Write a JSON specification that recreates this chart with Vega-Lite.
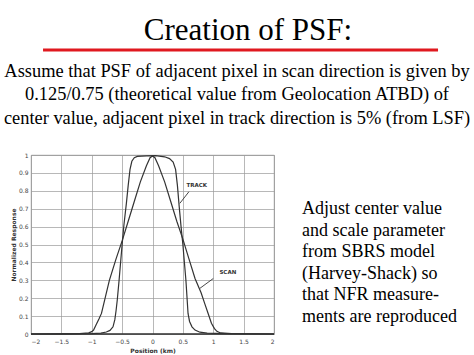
{
  "$schema": "https://vega.github.io/schema/vega-lite/v6.json",
  "width": 243,
  "height": 179,
  "autosize": "none",
  "padding": {"left": 31, "top": 155, "right": 200, "bottom": 21},
  "background": "white",
  "config": {
    "view": {"stroke": "#888", "strokeWidth": 0.8},
    "axis": {
      "labelFontSize": 6, "labelColor": "#444", "labelFont": "DejaVu Sans",
      "titleFontSize": 6, "titleColor": "#333", "titleFont": "DejaVu Sans", "titleFontWeight": "bold",
      "gridColor": "#999", "gridWidth": 0.7, "ticks": false, "domain": false, "labelOverlap": false
    }
  },
  "layer": [
    {
      "data": {"values": [
        {"series": "TRACK", "x": -2, "y": 0},
        {"series": "TRACK", "x": -1.5, "y": 0.001},
        {"series": "TRACK", "x": -1.0, "y": 0.002},
        {"series": "TRACK", "x": -0.85, "y": 0.005},
        {"series": "TRACK", "x": -0.76, "y": 0.011},
        {"series": "TRACK", "x": -0.7, "y": 0.02},
        {"series": "TRACK", "x": -0.65, "y": 0.04},
        {"series": "TRACK", "x": -0.62, "y": 0.08},
        {"series": "TRACK", "x": -0.6, "y": 0.13},
        {"series": "TRACK", "x": -0.58, "y": 0.19},
        {"series": "TRACK", "x": -0.55, "y": 0.3},
        {"series": "TRACK", "x": -0.5, "y": 0.5},
        {"series": "TRACK", "x": -0.47, "y": 0.61},
        {"series": "TRACK", "x": -0.43, "y": 0.73},
        {"series": "TRACK", "x": -0.4, "y": 0.83},
        {"series": "TRACK", "x": -0.37, "y": 0.92},
        {"series": "TRACK", "x": -0.34, "y": 0.965},
        {"series": "TRACK", "x": -0.3, "y": 0.985},
        {"series": "TRACK", "x": -0.25, "y": 0.992},
        {"series": "TRACK", "x": -0.1, "y": 0.995},
        {"series": "TRACK", "x": 0.05, "y": 0.996},
        {"series": "TRACK", "x": 0.2, "y": 0.99},
        {"series": "TRACK", "x": 0.28, "y": 0.98},
        {"series": "TRACK", "x": 0.34, "y": 0.96},
        {"series": "TRACK", "x": 0.38, "y": 0.92},
        {"series": "TRACK", "x": 0.41, "y": 0.83},
        {"series": "TRACK", "x": 0.44, "y": 0.71},
        {"series": "TRACK", "x": 0.47, "y": 0.6},
        {"series": "TRACK", "x": 0.5, "y": 0.5},
        {"series": "TRACK", "x": 0.55, "y": 0.3},
        {"series": "TRACK", "x": 0.585, "y": 0.115},
        {"series": "TRACK", "x": 0.61, "y": 0.07},
        {"series": "TRACK", "x": 0.65, "y": 0.04},
        {"series": "TRACK", "x": 0.7, "y": 0.022},
        {"series": "TRACK", "x": 0.78, "y": 0.01},
        {"series": "TRACK", "x": 0.9, "y": 0.005},
        {"series": "TRACK", "x": 1.2, "y": 0.002},
        {"series": "TRACK", "x": 2, "y": 0},
        {"series": "SCAN", "x": -2, "y": 0},
        {"series": "SCAN", "x": -1.5, "y": 0.001},
        {"series": "SCAN", "x": -1.2, "y": 0.002},
        {"series": "SCAN", "x": -1.05, "y": 0.006},
        {"series": "SCAN", "x": -1.0, "y": 0.013},
        {"series": "SCAN", "x": -0.97, "y": 0.022},
        {"series": "SCAN", "x": -0.93, "y": 0.05},
        {"series": "SCAN", "x": -0.88, "y": 0.085},
        {"series": "SCAN", "x": -0.84, "y": 0.115},
        {"series": "SCAN", "x": -0.78, "y": 0.2},
        {"series": "SCAN", "x": -0.71, "y": 0.3},
        {"series": "SCAN", "x": -0.6, "y": 0.42},
        {"series": "SCAN", "x": -0.5, "y": 0.52},
        {"series": "SCAN", "x": -0.4, "y": 0.63},
        {"series": "SCAN", "x": -0.3, "y": 0.74},
        {"series": "SCAN", "x": -0.2, "y": 0.85},
        {"series": "SCAN", "x": -0.1, "y": 0.94},
        {"series": "SCAN", "x": -0.04, "y": 0.985},
        {"series": "SCAN", "x": 0, "y": 0.995},
        {"series": "SCAN", "x": 0.04, "y": 0.985},
        {"series": "SCAN", "x": 0.1, "y": 0.94},
        {"series": "SCAN", "x": 0.2, "y": 0.85},
        {"series": "SCAN", "x": 0.3, "y": 0.74},
        {"series": "SCAN", "x": 0.4, "y": 0.63},
        {"series": "SCAN", "x": 0.5, "y": 0.53},
        {"series": "SCAN", "x": 0.6, "y": 0.42},
        {"series": "SCAN", "x": 0.7, "y": 0.31},
        {"series": "SCAN", "x": 0.8, "y": 0.23},
        {"series": "SCAN", "x": 0.86, "y": 0.17},
        {"series": "SCAN", "x": 0.92, "y": 0.11},
        {"series": "SCAN", "x": 0.97, "y": 0.06},
        {"series": "SCAN", "x": 1.02, "y": 0.03},
        {"series": "SCAN", "x": 1.06, "y": 0.015},
        {"series": "SCAN", "x": 1.12, "y": 0.006},
        {"series": "SCAN", "x": 1.3, "y": 0.002},
        {"series": "SCAN", "x": 2, "y": 0}
      ]},
      "mark": {"type": "line", "color": "#333", "strokeWidth": 1.2},
      "encoding": {
        "x": {"field": "x", "type": "quantitative",
              "scale": {"domain": [-2, 2], "nice": false},
              "axis": {"values": [-2, -1.5, -1, -0.5, 0, 0.5, 1, 1.5, 2], "format": "~g", "title": "Position (km)", "labelPadding": 4, "titlePadding": 3}},
        "y": {"field": "y", "type": "quantitative",
              "scale": {"domain": [0, 1], "nice": false},
              "axis": {"values": [0, 0.1, 0.2, 0.3, 0.4, 0.5, 0.6, 0.7, 0.8, 0.9, 1], "format": "~g", "title": "Normalized Response", "labelPadding": 3, "titlePadding": 2}},
        "detail": {"field": "series"},
        "order": {"field": "x", "type": "quantitative"}
      }
    },
    {
      "data": {"values": [{}]},
      "mark": {"type": "rule", "color": "#333", "strokeWidth": 1.5},
      "encoding": {
        "x": {"datum": -2, "type": "quantitative", "axis": {"values": [-2, -1.5, -1, -0.5, 0, 0.5, 1, 1.5, 2], "format": "~g", "title": "Position (km)", "labelPadding": 4, "titlePadding": 3}},
        "x2": {"datum": 2},
        "y": {"datum": 0, "type": "quantitative", "axis": {"values": [0, 0.1, 0.2, 0.3, 0.4, 0.5, 0.6, 0.7, 0.8, 0.9, 1], "format": "~g", "title": "Normalized Response", "labelPadding": 3, "titlePadding": 2}}
      }
    },
    {
      "data": {"values": [{}]},
      "mark": {"type": "rule", "color": "#333", "strokeWidth": 0.9},
      "encoding": {
        "x": {"datum": 0.6, "type": "quantitative", "axis": {"values": [-2, -1.5, -1, -0.5, 0, 0.5, 1, 1.5, 2], "format": "~g", "title": "Position (km)", "labelPadding": 4, "titlePadding": 3}},
        "y": {"datum": 0.795, "type": "quantitative", "axis": {"values": [0, 0.1, 0.2, 0.3, 0.4, 0.5, 0.6, 0.7, 0.8, 0.9, 1], "format": "~g", "title": "Normalized Response", "labelPadding": 3, "titlePadding": 2}},
        "x2": {"datum": 0.45}, "y2": {"datum": 0.73}
      }
    },
    {
      "data": {"values": [{}]},
      "mark": {"type": "rule", "color": "#333", "strokeWidth": 0.9},
      "encoding": {
        "x": {"datum": 1.0, "type": "quantitative", "axis": {"values": [-2, -1.5, -1, -0.5, 0, 0.5, 1, 1.5, 2], "format": "~g", "title": "Position (km)", "labelPadding": 4, "titlePadding": 3}},
        "y": {"datum": 0.31, "type": "quantitative", "axis": {"values": [0, 0.1, 0.2, 0.3, 0.4, 0.5, 0.6, 0.7, 0.8, 0.9, 1], "format": "~g", "title": "Normalized Response", "labelPadding": 3, "titlePadding": 2}},
        "x2": {"datum": 0.78}, "y2": {"datum": 0.255}
      }
    },
    {
      "data": {"values": [{}]},
      "mark": {"type": "text", "text": "TRACK", "font": "DejaVu Sans", "fontSize": 5.5, "fontWeight": "bold", "color": "#333", "align": "center", "baseline": "middle"},
      "encoding": {
        "x": {"datum": 0.73, "type": "quantitative", "axis": {"values": [-2, -1.5, -1, -0.5, 0, 0.5, 1, 1.5, 2], "format": "~g", "title": "Position (km)", "labelPadding": 4, "titlePadding": 3}},
        "y": {"datum": 0.83, "type": "quantitative", "axis": {"values": [0, 0.1, 0.2, 0.3, 0.4, 0.5, 0.6, 0.7, 0.8, 0.9, 1], "format": "~g", "title": "Normalized Response", "labelPadding": 3, "titlePadding": 2}}
      }
    },
    {
      "data": {"values": [{}]},
      "mark": {"type": "text", "text": "SCAN", "font": "DejaVu Sans", "fontSize": 5.5, "fontWeight": "bold", "color": "#333", "align": "center", "baseline": "middle"},
      "encoding": {
        "x": {"datum": 1.24, "type": "quantitative", "axis": {"values": [-2, -1.5, -1, -0.5, 0, 0.5, 1, 1.5, 2], "format": "~g", "title": "Position (km)", "labelPadding": 4, "titlePadding": 3}},
        "y": {"datum": 0.345, "type": "quantitative", "axis": {"values": [0, 0.1, 0.2, 0.3, 0.4, 0.5, 0.6, 0.7, 0.8, 0.9, 1], "format": "~g", "title": "Normalized Response", "labelPadding": 3, "titlePadding": 2}}
      }
    },
    {
      "data": {"values": [{}]},
      "mark": {"type": "text", "text": "Creation of PSF:", "font": "Liberation Serif", "fontSize": 31, "color": "black", "align": "center", "baseline": "alphabetic"},
      "encoding": {
        "x": {"datum": 1.572, "type": "quantitative", "axis": {"values": [-2, -1.5, -1, -0.5, 0, 0.5, 1, 1.5, 2], "format": "~g", "title": "Position (km)", "labelPadding": 4, "titlePadding": 3}},
        "y": {"datum": 1.642, "type": "quantitative", "axis": {"values": [0, 0.1, 0.2, 0.3, 0.4, 0.5, 0.6, 0.7, 0.8, 0.9, 1], "format": "~g", "title": "Normalized Response", "labelPadding": 3, "titlePadding": 2}}
      }
    },
    {
      "data": {"values": [{}]},
      "mark": {"type": "rule", "color": "#e0191f", "strokeWidth": 3},
      "encoding": {
        "x": {"datum": -1.802, "type": "quantitative", "axis": {"values": [-2, -1.5, -1, -0.5, 0, 0.5, 1, 1.5, 2], "format": "~g", "title": "Position (km)", "labelPadding": 4, "titlePadding": 3}},
        "x2": {"datum": 4.7},
        "y": {"datum": 1.587, "type": "quantitative", "axis": {"values": [0, 0.1, 0.2, 0.3, 0.4, 0.5, 0.6, 0.7, 0.8, 0.9, 1], "format": "~g", "title": "Normalized Response", "labelPadding": 3, "titlePadding": 2}}
      }
    },
    {
      "data": {"values": [{}]},
      "mark": {"type": "text", "text": ["Assume that PSF of adjacent pixel in scan direction is given by", "0.125/0.75 (theoretical value from Geolocation ATBD) of", "center value, adjacent pixel in track direction is 5% (from LSF)"], "font": "Liberation Serif", "fontSize": 18.4, "lineHeight": 23.5, "color": "black", "align": "center", "baseline": "alphabetic"},
      "encoding": {
        "x": {"datum": 1.391, "type": "quantitative", "axis": {"values": [-2, -1.5, -1, -0.5, 0, 0.5, 1, 1.5, 2], "format": "~g", "title": "Position (km)", "labelPadding": 4, "titlePadding": 3}},
        "y": {"datum": 1.4385, "type": "quantitative", "axis": {"values": [0, 0.1, 0.2, 0.3, 0.4, 0.5, 0.6, 0.7, 0.8, 0.9, 1], "format": "~g", "title": "Normalized Response", "labelPadding": 3, "titlePadding": 2}}
      }
    },
    {
      "data": {"values": [{}]},
      "mark": {"type": "text", "text": ["Adjust center value", "and scale parameter", "from SBRS model", "(Harvey-Shack) so", "that NFR measure-", "ments are reproduced"], "font": "Liberation Serif", "fontSize": 18, "lineHeight": 21.5, "color": "black", "align": "left", "baseline": "alphabetic"},
      "encoding": {
        "x": {"datum": 2.461, "type": "quantitative", "axis": {"values": [-2, -1.5, -1, -0.5, 0, 0.5, 1, 1.5, 2], "format": "~g", "title": "Position (km)", "labelPadding": 4, "titlePadding": 3}},
        "y": {"datum": 0.67, "type": "quantitative", "axis": {"values": [0, 0.1, 0.2, 0.3, 0.4, 0.5, 0.6, 0.7, 0.8, 0.9, 1], "format": "~g", "title": "Normalized Response", "labelPadding": 3, "titlePadding": 2}}
      }
    }
  ]
}
